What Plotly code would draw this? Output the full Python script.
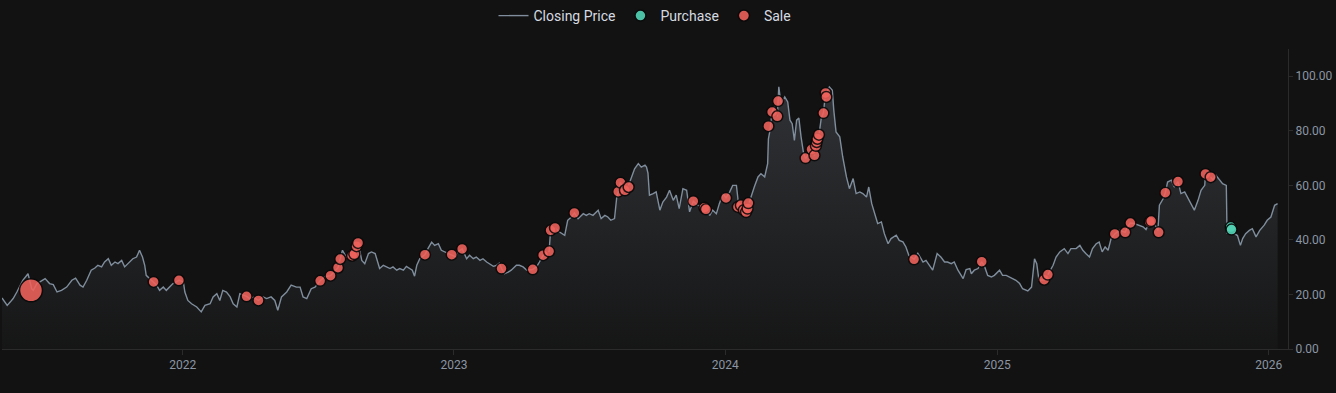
import plotly.graph_objects as go

close_dates = [
    "2021-05-03", "2021-05-07", "2021-05-10", "2021-05-14", "2021-05-18", "2021-05-23", "2021-05-31",
    "2021-06-07", "2021-06-12", "2021-06-14", "2021-06-19", "2021-06-23", "2021-06-30",
    "2021-07-06", "2021-07-11", "2021-07-16", "2021-07-22", "2021-07-29",
    "2021-08-05", "2021-08-10", "2021-08-16", "2021-08-20", "2021-08-25", "2021-08-31",
    "2021-09-05", "2021-09-09", "2021-09-14", "2021-09-18", "2021-09-23", "2021-09-27",
    "2021-10-02", "2021-10-06", "2021-10-11", "2021-10-15", "2021-10-20", "2021-10-26", "2021-10-31",
    "2021-11-04", "2021-11-08", "2021-11-11", "2021-11-13", "2021-11-18", "2021-11-23", "2021-11-27",
    "2021-12-01", "2021-12-06", "2021-12-10", "2021-12-15", "2021-12-19", "2021-12-27",
    "2022-01-02", "2022-01-04", "2022-01-08", "2022-01-13", "2022-01-20", "2022-01-26", "2022-01-31",
    "2022-02-07", "2022-02-11", "2022-02-16", "2022-02-20", "2022-02-24",
    "2022-03-01", "2022-03-06", "2022-03-10", "2022-03-15", "2022-03-19", "2022-03-28",
    "2022-04-01", "2022-04-06", "2022-04-13", "2022-04-19", "2022-04-24", "2022-04-30",
    "2022-05-05", "2022-05-09", "2022-05-14", "2022-05-21", "2022-05-27",
    "2022-06-03", "2022-06-08", "2022-06-12", "2022-06-17", "2022-06-23", "2022-06-28",
    "2022-07-05", "2022-07-11", "2022-07-19", "2022-07-29",
    "2022-08-01", "2022-08-04", "2022-08-09", "2022-08-17", "2022-08-23", "2022-08-25", "2022-08-30",
    "2022-09-03", "2022-09-08", "2022-09-12", "2022-09-17", "2022-09-20", "2022-09-23", "2022-09-28",
    "2022-10-02", "2022-10-07", "2022-10-11", "2022-10-16", "2022-10-20", "2022-10-25", "2022-10-29",
    "2022-11-03", "2022-11-06", "2022-11-09", "2022-11-12", "2022-11-16", "2022-11-23", "2022-11-27",
    "2022-12-02", "2022-12-06", "2022-12-11", "2022-12-15", "2022-12-20", "2022-12-29",
    "2023-01-04", "2023-01-06", "2023-01-12", "2023-01-18", "2023-01-22", "2023-01-27", "2023-01-31",
    "2023-02-05", "2023-02-09", "2023-02-14", "2023-02-18", "2023-02-23", "2023-02-27",
    "2023-03-03", "2023-03-06", "2023-03-10", "2023-03-15", "2023-03-19", "2023-03-26", "2023-03-30",
    "2023-04-04", "2023-04-09", "2023-04-17", "2023-04-22", "2023-04-26",
    "2023-05-01", "2023-05-09", "2023-05-10", "2023-05-11", "2023-05-17", "2023-05-23", "2023-05-30",
    "2023-06-03", "2023-06-08", "2023-06-12", "2023-06-17", "2023-06-24", "2023-06-28",
    "2023-07-02", "2023-07-07", "2023-07-14", "2023-07-18", "2023-07-23", "2023-07-27", "2023-07-31",
    "2023-08-05", "2023-08-08", "2023-08-10", "2023-08-13", "2023-08-19", "2023-08-23", "2023-08-28",
    "2023-09-01", "2023-09-06", "2023-09-10", "2023-09-15", "2023-09-17", "2023-09-19", "2023-09-21",
    "2023-09-26", "2023-09-30",
    "2023-10-05", "2023-10-09", "2023-10-14", "2023-10-18", "2023-10-23", "2023-10-27", "2023-10-31",
    "2023-11-05", "2023-11-10", "2023-11-14", "2023-11-19", "2023-11-25",
    "2023-12-05", "2023-12-11", "2023-12-15", "2023-12-20", "2023-12-24", "2023-12-29",
    "2024-01-02", "2024-01-07", "2024-01-11", "2024-01-16", "2024-01-18", "2024-01-19", "2024-01-22",
    "2024-01-29",
    "2024-02-02", "2024-02-05", "2024-02-09", "2024-02-14", "2024-02-18", "2024-02-23", "2024-02-27",
    "2024-02-28",
    "2024-03-01", "2024-03-04", "2024-03-07", "2024-03-11", "2024-03-12", "2024-03-13", "2024-03-16",
    "2024-03-21", "2024-03-25", "2024-03-28", "2024-03-31",
    "2024-04-03", "2024-04-06", "2024-04-09", "2024-04-12", "2024-04-15", "2024-04-18", "2024-04-26",
    "2024-04-30",
    "2024-05-02", "2024-05-06", "2024-05-09", "2024-05-12", "2024-05-15", "2024-05-20", "2024-05-24",
    "2024-05-26", "2024-05-29",
    "2024-06-03", "2024-06-05", "2024-06-07", "2024-06-12", "2024-06-16", "2024-06-21", "2024-06-25",
    "2024-06-30",
    "2024-07-04", "2024-07-09", "2024-07-12", "2024-07-16", "2024-07-20", "2024-07-24", "2024-07-29",
    "2024-08-02", "2024-08-07", "2024-08-11", "2024-08-18", "2024-08-22", "2024-08-27", "2024-08-31",
    "2024-09-04", "2024-09-11", "2024-09-16", "2024-09-23", "2024-09-27",
    "2024-10-02", "2024-10-06", "2024-10-12", "2024-10-17", "2024-10-22", "2024-10-26", "2024-10-31",
    "2024-11-04", "2024-11-09", "2024-11-16", "2024-11-20", "2024-11-25", "2024-11-27",
    "2024-12-01", "2024-12-06", "2024-12-11", "2024-12-15", "2024-12-19", "2024-12-24", "2024-12-28",
    "2025-01-04", "2025-01-08", "2025-01-13", "2025-01-17", "2025-01-22", "2025-01-26", "2025-01-31",
    "2025-02-04", "2025-02-11", "2025-02-16", "2025-02-20", "2025-02-23", "2025-02-26",
    "2025-03-05", "2025-03-10", "2025-03-17", "2025-03-21", "2025-03-26",
    "2025-04-01", "2025-04-06", "2025-04-10", "2025-04-17", "2025-04-22", "2025-04-26", "2025-04-30",
    "2025-05-05", "2025-05-09", "2025-05-14", "2025-05-18", "2025-05-22", "2025-05-26", "2025-05-30",
    "2025-06-03", "2025-06-08", "2025-06-14", "2025-06-22", "2025-06-25", "2025-06-29",
    "2025-07-04", "2025-07-11", "2025-07-16", "2025-07-20", "2025-07-25", "2025-07-29",
    "2025-08-05", "2025-08-07", "2025-08-12", "2025-08-15", "2025-08-18", "2025-08-23", "2025-08-27",
    "2025-09-01", "2025-09-05", "2025-09-10", "2025-09-14", "2025-09-19", "2025-09-23", "2025-09-28",
    "2025-10-02", "2025-10-07", "2025-10-08", "2025-10-15", "2025-10-18", "2025-10-22", "2025-10-27",
    "2025-10-31",
    "2025-11-05", "2025-11-06", "2025-11-11", "2025-11-16", "2025-11-20", "2025-11-24", "2025-11-27",
    "2025-12-01", "2025-12-06", "2025-12-10", "2025-12-15", "2025-12-20", "2025-12-26", "2025-12-30",
    "2026-01-04", "2026-01-09", "2026-01-13",
]

close_values = [
    18.7, 17.0, 16.0, 17.2, 18.5, 20.9, 25.2,
    27.6, 22.0, 21.5, 24.0, 24.6, 25.8,
    24.0, 23.6, 20.9, 21.5, 22.7,
    25.2, 26.0, 23.4, 22.7, 25.2, 28.9,
    29.7, 30.7, 30.1, 31.9, 33.1, 30.7,
    31.9, 31.3, 32.5, 30.1, 31.3, 33.1, 33.7,
    36.2, 33.7, 30.7, 27.0, 25.8, 24.6, 23.4,
    21.5, 22.7, 21.5, 22.7, 24.0, 25.2,
    24.6, 20.9, 17.8, 16.6, 15.4, 13.6, 16.0,
    16.6, 19.1, 20.3, 17.8, 21.5,
    20.9, 19.1, 16.6, 15.4, 20.3, 19.3,
    18.5, 19.0, 17.8, 19.1, 18.5, 19.1,
    17.8, 14.2, 19.1, 20.9, 23.4,
    22.7, 22.7, 19.1, 18.5, 22.1, 22.7,
    25.0, 26.5, 26.9, 29.8,
    33.0, 36.2, 33.7, 34.2, 37.7, 38.9, 32.5,
    31.3, 35.0, 35.6, 35.0, 32.5, 29.5, 30.7,
    30.1, 29.5, 30.1, 28.9, 29.5, 28.9, 30.3,
    29.5, 28.9, 26.7, 30.7, 33.1, 34.6, 36.8,
    39.2, 38.0, 38.6, 36.2, 35.6, 34.6,
    33.7, 35.6, 36.7, 33.1, 34.4, 33.1, 33.7,
    32.5, 33.1, 31.9, 31.3, 30.3, 30.6,
    31.5, 29.5, 27.6, 28.2, 28.9, 30.7, 30.7,
    30.1, 28.9, 29.2, 30.1, 31.9,
    34.4, 35.8, 41.1, 43.5, 44.4, 42.9, 41.7,
    47.2, 48.4, 49.9, 47.8, 49.6, 49.0,
    49.6, 49.0, 50.9, 47.8, 49.0, 48.4, 47.2,
    47.8, 55.7, 57.6, 61.0, 58.2, 59.4, 63.1,
    66.1, 68.0, 66.7, 67.4, 66.7, 64.5, 56.4,
    57.0, 57.6,
    50.9, 53.9, 55.7, 58.2, 54.5, 56.4, 51.5,
    58.8, 58.2, 50.3, 54.2, 52.7,
    52.1, 49.0, 50.9, 49.6, 53.3, 57.0,
    55.5, 57.6, 60.0, 60.0, 55.1, 52.1, 52.7,
    50.5,
    53.5, 55.7, 59.4, 63.1, 64.3, 63.1, 68.0,
    77.0,
    80.0, 86.8, 88.8, 85.3, 91.0, 96.1, 90.0,
    92.4, 90.6, 83.9, 82.6,
    76.5, 83.9, 84.7, 77.7, 72.3, 69.8, 73.2,
    71.0,
    76.0, 78.3, 84.5, 86.7, 93.9, 96.1, 94.9,
    87.5, 79.6,
    77.8, 72.9, 70.4, 63.1, 58.8, 62.5, 57.0,
    57.6,
    57.0, 55.7, 59.4, 53.3, 49.6, 46.0, 46.6,
    42.3, 38.6, 40.5, 41.7, 39.8, 39.3, 37.4,
    34.3, 32.9, 35.1, 31.9, 32.5,
    30.7, 28.9, 35.0, 33.7, 31.9, 31.9, 31.3,
    31.9, 28.9, 25.8, 29.1, 29.5, 27.6,
    28.9, 29.5, 32.0, 30.1, 27.0, 26.4, 27.0,
    28.9, 27.0, 27.0, 26.4, 25.8, 25.2, 24.0,
    22.1, 21.3, 22.7, 33.1, 31.3, 25.2,
    25.4, 27.3, 30.7, 33.7, 35.6,
    36.8, 35.0, 36.8, 36.8, 38.0, 36.2, 35.0,
    33.7, 36.8, 38.6, 39.2, 35.6, 37.4, 36.2,
    40.5, 42.2, 43.5, 42.8, 44.8, 46.2,
    46.0, 45.4, 44.8, 43.8, 46.6, 47.2,
    43.5, 52.7, 55.1, 57.3, 61.2, 61.9, 59.4,
    61.4, 57.0, 57.6, 55.7, 53.3, 50.9, 54.5,
    58.2, 60.0, 64.2, 63.0, 62.0, 63.7, 61.9,
    60.6,
    60.0, 42.3, 44.7, 42.3, 41.6, 38.0, 40.5,
    42.3, 43.5, 44.1, 41.1, 43.5, 45.4, 47.2,
    48.4, 52.7, 53.3,
]

purchase_dates = ["2025-11-11", "2025-11-12"]
purchase_prices = [44.7, 43.8]

sale_dates = [
    "2021-06-11", "2021-11-23", "2021-12-27", "2022-03-28", "2022-04-13", "2022-07-05", "2022-07-19",
    "2022-07-29", "2022-08-01", "2022-08-17", "2022-08-20", "2022-08-23", "2022-08-25", "2022-11-23",
    "2022-12-29", "2023-01-12", "2023-03-06", "2023-04-17", "2023-05-01", "2023-05-09", "2023-05-11",
    "2023-05-17", "2023-06-12", "2023-08-10", "2023-08-13", "2023-08-19", "2023-08-24", "2023-11-19",
    "2023-12-04", "2023-12-06", "2024-01-02", "2024-01-18", "2024-01-22", "2024-01-26", "2024-01-29",
    "2024-01-31", "2024-02-01", "2024-02-28", "2024-03-04", "2024-03-11", "2024-03-12", "2024-04-18",
    "2024-04-26", "2024-04-30", "2024-05-02", "2024-05-03", "2024-05-04", "2024-05-06", "2024-05-12",
    "2024-05-15", "2024-05-16", "2024-09-11", "2024-12-11", "2025-03-05", "2025-03-10", "2025-06-08",
    "2025-06-22", "2025-06-29", "2025-07-25", "2025-07-27", "2025-08-06", "2025-08-15", "2025-09-01",
    "2025-10-08", "2025-10-15",
]
sale_prices = [
    21.5, 24.6, 25.2, 19.3, 17.8, 25.0, 26.9,
    29.8, 33.0, 34.2, 34.8, 37.7, 38.9, 34.6,
    34.6, 36.7, 29.5, 29.2, 34.4, 35.8, 43.5,
    44.4, 49.9, 57.7, 61.0, 58.2, 59.4, 54.2,
    51.8, 51.2, 55.4, 52.1, 52.7, 50.9, 50.2,
    51.5, 53.5, 81.7, 86.9, 85.3, 90.9, 70.0,
    73.2, 71.0, 74.5, 75.9, 77.1, 78.6, 86.5,
    93.9, 92.4, 32.9, 32.0, 25.4, 27.3, 42.2,
    42.8, 46.2, 46.6, 46.9, 42.8, 57.3, 61.4,
    64.2, 63.0,
]

y_ticks = [0, 20, 40, 60, 80, 100]

BG = "#121212"
AXIS = "#2b2b2b"
TICK_FONT = dict(family="Roboto, sans-serif", size=12, color="#8b95a3")

sale_sizes = [23 if i == 0 else 11 for i in range(len(sale_dates))]

fig = go.Figure()

fig.add_trace(go.Scatter(
    x=close_dates, y=close_values, mode="lines",
    line=dict(width=0, color="rgba(0,0,0,0)"),
    fill="tozeroy",
    fillgradient=dict(
        type="vertical",
        colorscale=[[0, "rgba(140,150,165,0.03)"], [1, "rgba(140,150,165,0.25)"]],
        start=0, stop=100,
    ),
    showlegend=False, hoverinfo="skip",
))

fig.add_trace(go.Scatter(
    x=close_dates, y=close_values, mode="lines", name="Closing Price",
    line=dict(color="#7f8d9c", width=1.4),
))

fig.add_trace(go.Scatter(
    x=purchase_dates, y=purchase_prices, mode="markers", name="Purchase",
    marker=dict(color="#52d3b4", size=11, opacity=0.9,
                line=dict(color="#0a0a0a", width=1.5)),
))

fig.add_trace(go.Scatter(
    x=sale_dates, y=sale_prices, mode="markers", name="Sale",
    marker=dict(color="#f0625c", size=sale_sizes, opacity=0.88,
                line=dict(color="#0a0a0a", width=1.5)),
))

fig.update_layout(
    width=1336, height=393,
    paper_bgcolor=BG, plot_bgcolor=BG,
    margin=dict(l=2, r=48, t=49, b=44, pad=0),
    font=dict(family="Roboto, sans-serif", color="#d0d4da"),
    showlegend=True,
    legend=dict(
        orientation="h", x=0.5, xanchor="center",
        y=1, yref="container", yanchor="top",
        font=dict(family="Roboto, sans-serif", size=14, color="#d6dae0"),
        bgcolor="rgba(0,0,0,0)", itemwidth=30,
    ),
    xaxis=dict(
        type="date", range=["2021-05-03", "2026-01-27"],
        showgrid=False, zeroline=False,
        showline=True, linecolor=AXIS, linewidth=1,
        ticks="outside", ticklen=5, tickcolor=AXIS,
        dtick="M12", tick0="2022-01-01", tickformat="%Y",
        tickfont=TICK_FONT,
    ),
    yaxis=dict(
        side="right", range=[0, 110],
        tickvals=y_ticks, tickformat=".2f",
        showgrid=False, zeroline=False,
        showline=True, linecolor=AXIS, linewidth=1,
        ticks="outside", ticklen=4, tickcolor=AXIS,
        tickfont=TICK_FONT,
    ),
)

fig.write_html(
    "out.html",
    config={"displayModeBar": False},
    post_script="document.body.style.margin='0';document.body.style.background='#121212';",
)
